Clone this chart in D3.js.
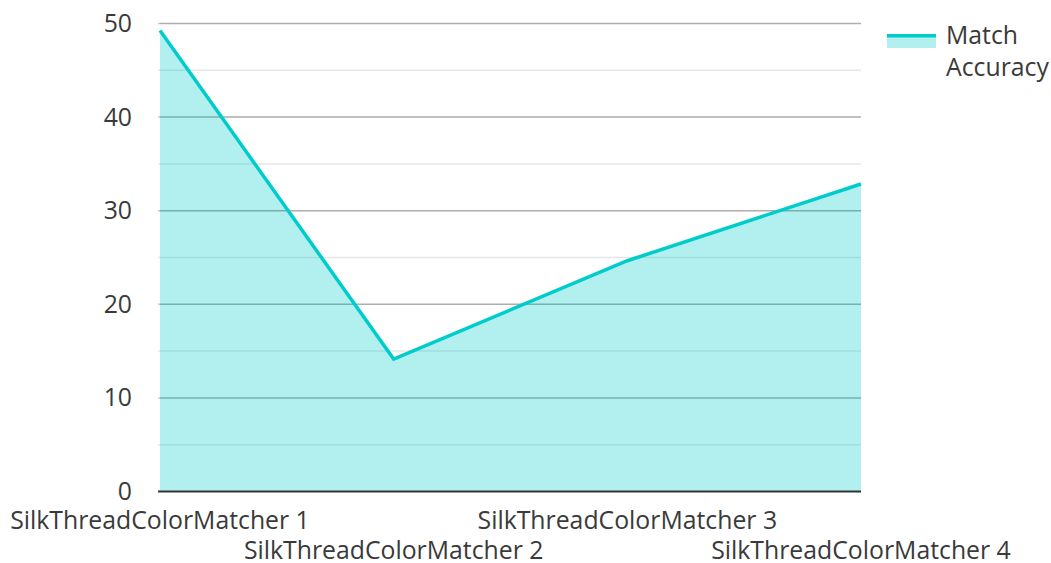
<!DOCTYPE html>
<html>
<head>
<meta charset="utf-8">
<script src="https://cdn.jsdelivr.net/npm/d3@7"></script>
<style>
  body { margin: 0; background: #fff; }
  text { font-family: "Open Sans", sans-serif; fill: #3a3a3a; }
</style>
</head>
<body>
<div id="chart"></div>
<script>
// chart data
var categories = ["SilkThreadColorMatcher 1", "SilkThreadColorMatcher 2", "SilkThreadColorMatcher 3", "SilkThreadColorMatcher 4"];
var accuracy = [49.2, 14.1, 24.6, 32.8];
var yTicks = [0, 10, 20, 30, 40, 50];
var seriesName = ["Match", "Accuracy"];

var svgWidth = 1051;
var svgHeight = 563;

var margin = { top: 23, right: 190, bottom: 72, left: 160 };
var width = svgWidth - margin.left - margin.right;
var height = svgHeight - margin.top - margin.bottom;

var svg = d3.select("#chart")
  .append("svg")
  .attr("width", svgWidth)
  .attr("height", svgHeight);

var chartGroup = svg.append("g")
  .attr("transform", `translate(${margin.left}, ${margin.top})`);

var xScale = d3.scalePoint()
  .domain(categories)
  .range([0, width]);

var yScale = d3.scaleLinear()
  .domain([0, 50])
  .range([height, 0]);

// minor gridlines every 5
chartGroup.append("g")
  .selectAll("line")
  .data(d3.range(5, 50, 10))
  .enter()
  .append("line")
  .attr("x1", -2)
  .attr("x2", width)
  .attr("y1", d => yScale(d) + 0.5)
  .attr("y2", d => yScale(d) + 0.5)
  .attr("stroke", "#e6e6e6")
  .attr("stroke-width", 1.5);

// major gridlines
chartGroup.append("g")
  .selectAll("line")
  .data(yTicks.slice(1))
  .enter()
  .append("line")
  .attr("x1", -2)
  .attr("x2", width)
  .attr("y1", d => yScale(d) + 0.5)
  .attr("y2", d => yScale(d) + 0.5)
  .attr("stroke", "#c6c6c6")
  .attr("stroke-width", 1.5);

// area fill
var area = d3.area()
  .x((d, i) => xScale(categories[i]))
  .y0(yScale(0))
  .y1(d => yScale(d));

chartGroup.append("path")
  .datum(accuracy)
  .attr("d", area)
  .attr("fill", "#00cccc")
  .attr("fill-opacity", 0.3);

// redraw gridlines faintly over the fill
chartGroup.append("g")
  .selectAll("line")
  .data(yTicks.slice(1))
  .enter()
  .append("line")
  .attr("x1", 0)
  .attr("x2", width)
  .attr("y1", d => yScale(d) + 0.5)
  .attr("y2", d => yScale(d) + 0.5)
  .attr("stroke", "#000")
  .attr("stroke-opacity", 0.12)
  .attr("stroke-width", 1.5);

var line = d3.line()
  .x((d, i) => xScale(categories[i]))
  .y(d => yScale(d));

chartGroup.append("path")
  .datum(accuracy)
  .attr("d", line)
  .attr("fill", "none")
  .attr("stroke", "#00cccc")
  .attr("stroke-width", 3.5);

// x axis line
chartGroup.append("line")
  .attr("x1", -2)
  .attr("x2", width)
  .attr("y1", height + 0.5)
  .attr("y2", height + 0.5)
  .attr("stroke", "#333")
  .attr("stroke-width", 2);

// y tick labels
chartGroup.append("g")
  .selectAll("text")
  .data(yTicks)
  .enter()
  .append("text")
  .attr("x", -28)
  .attr("y", d => yScale(d) + 9)
  .attr("text-anchor", "end")
  .attr("font-size", 24.8)
  .text(d => d);

// category labels, staggered
chartGroup.append("g")
  .selectAll("text")
  .data(categories)
  .enter()
  .append("text")
  .attr("x", d => xScale(d))
  .attr("y", (d, i) => height + (i % 2 === 0 ? 38 : 68))
  .attr("text-anchor", "middle")
  .attr("font-size", 24.8)
  .text(d => d);

// legend
var legend = svg.append("g")
  .attr("transform", "translate(887, 34)");

legend.append("rect")
  .attr("x", 0)
  .attr("y", 0)
  .attr("width", 49)
  .attr("height", 14)
  .attr("fill", "#00cccc")
  .attr("fill-opacity", 0.3);

legend.append("rect")
  .attr("x", 0)
  .attr("y", 0)
  .attr("width", 49)
  .attr("height", 3.5)
  .attr("fill", "#00cccc");

legend.selectAll(".legendText")
  .data(seriesName)
  .enter()
  .append("text")
  .attr("class", "legendText")
  .attr("x", 59)
  .attr("y", (d, i) => 10 + i * 32)
  .attr("font-size", 24.8)
  .text(d => d);
</script>
</body>
</html>
